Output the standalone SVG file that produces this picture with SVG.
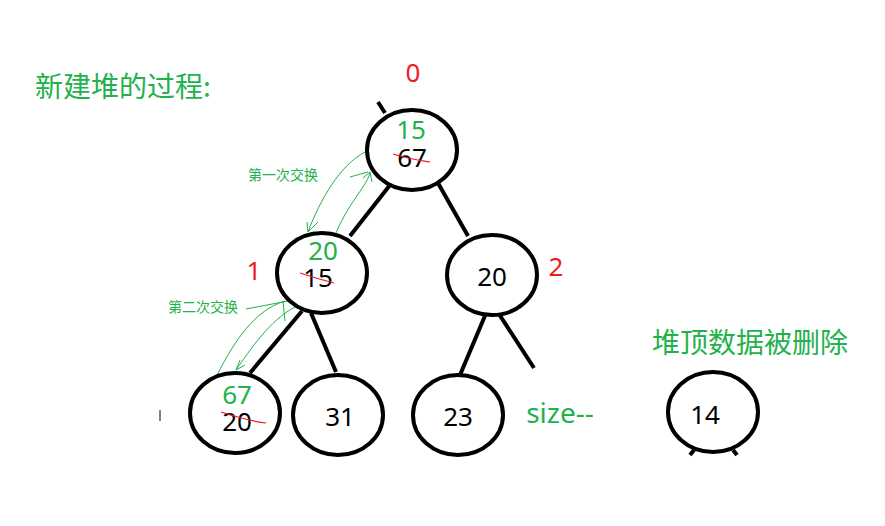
<svg xmlns="http://www.w3.org/2000/svg" width="885" height="526" viewBox="0 0 885 526">
<style>
.n{fill:#fff;stroke:#000;stroke-width:4}
.e{stroke:#000;stroke-width:4;fill:none}
.t{font-family:"Noto Sans","Liberation Sans",sans-serif;font-size:26px;text-anchor:middle}
.g{fill:#22b14c}.r{fill:#ed1c24}
.a{stroke:#22b14c;stroke-width:1;fill:none}
.x{stroke:#ed1c24;stroke-width:1.2;fill:none}
</style>
<rect width="885" height="526" fill="#fff"/>
<g id="connectors">
<line class="e" x1="378" y1="102" x2="385" y2="113"/>
<line class="e" x1="390" y1="185" x2="350" y2="236"/>
<line class="e" x1="438" y1="183" x2="468" y2="236"/>
<line class="e" x1="302" y1="311" x2="250" y2="373"/>
<line class="e" x1="311" y1="313" x2="336" y2="372"/>
<line class="e" x1="487" y1="311" x2="460" y2="375"/>
<line class="e" x1="497" y1="311" x2="534" y2="368"/>
<line class="e" x1="690" y1="455" x2="694" y2="450"/>
<line class="e" x1="737" y1="455" x2="733" y2="450"/>
<path class="a" d="M365 152 C340 165 320 200 308 232 M308 232 L307 222 M308 232 L318 222"/>
<path class="a" d="M336 233 C350 200 368 185 370 172 M370 172 L363 178 M370 172 L372 182 M350 177 L368 172"/>
<path class="a" d="M285 301 C255 310 235 340 217 375 M246 309 L288 301 M283 301 L285 321"/>
<path class="a" d="M295 307 C270 320 250 350 236 370 M236 370 L240 360 M236 370 L245 365"/>
</g>
<g id="title"><text x="35" y="97" font-family="'Microsoft YaHei','Noto Sans CJK SC',sans-serif" font-size="28" class="g">新建堆的过程:</text></g>
<g id="root"><ellipse class="n" cx="412" cy="150" rx="45" ry="40"/>
<text class="t g" x="411" y="139">15</text><text class="t" x="412" y="167">67</text><path class="x" d="M393 154 C405 158 418 160 430 162"/></g>
<g id="n1"><ellipse class="n" cx="322" cy="273" rx="45" ry="40"/>
<text class="t g" x="323" y="260">20</text><text class="t" x="318" y="287">15</text><path class="x" d="M300 273 C312 277 322 280 334 283"/></g>
<g id="n2"><ellipse class="n" cx="492" cy="275" rx="45" ry="40"/><text class="t" x="492" y="286">20</text></g>
<g id="n3"><ellipse class="n" cx="235" cy="413" rx="45" ry="40"/>
<text class="t g" x="237" y="404">67</text><text class="t" x="237" y="431">20</text><path class="x" d="M221 412 C240 418 255 422 266 423"/></g>
<g id="n4"><ellipse class="n" cx="338" cy="415" rx="45" ry="40"/><text class="t" x="340" y="426">31</text></g>
<g id="n5"><ellipse class="n" cx="458" cy="415" rx="45" ry="40"/><text class="t" x="458" y="426">23</text></g>
<g id="n6"><ellipse class="n" cx="713" cy="412" rx="45" ry="40"/><text class="t" x="705" y="424">14</text></g>
<g id="labels">
<text class="t r" x="413" y="82">0</text>
<text class="t r" x="254" y="280">1</text>
<text class="t r" x="556" y="276">2</text>
<text class="t g" x="560" y="423" style="font-size:28px">size--</text>
<text x="750" y="353" font-family="'Microsoft YaHei','Noto Sans CJK SC',sans-serif" font-size="28" text-anchor="middle" class="g">堆顶数据被删除</text>
<text x="283" y="180" font-family="'Noto Sans CJK SC',sans-serif" font-size="14" text-anchor="middle" class="g">第一次交换</text>
<text x="203" y="312" font-family="'Noto Sans CJK SC',sans-serif" font-size="14" text-anchor="middle" class="g">第二次交换</text>
<line x1="160" y1="410" x2="160" y2="421" stroke="#000" stroke-width="1"/>
</g>
</svg>
